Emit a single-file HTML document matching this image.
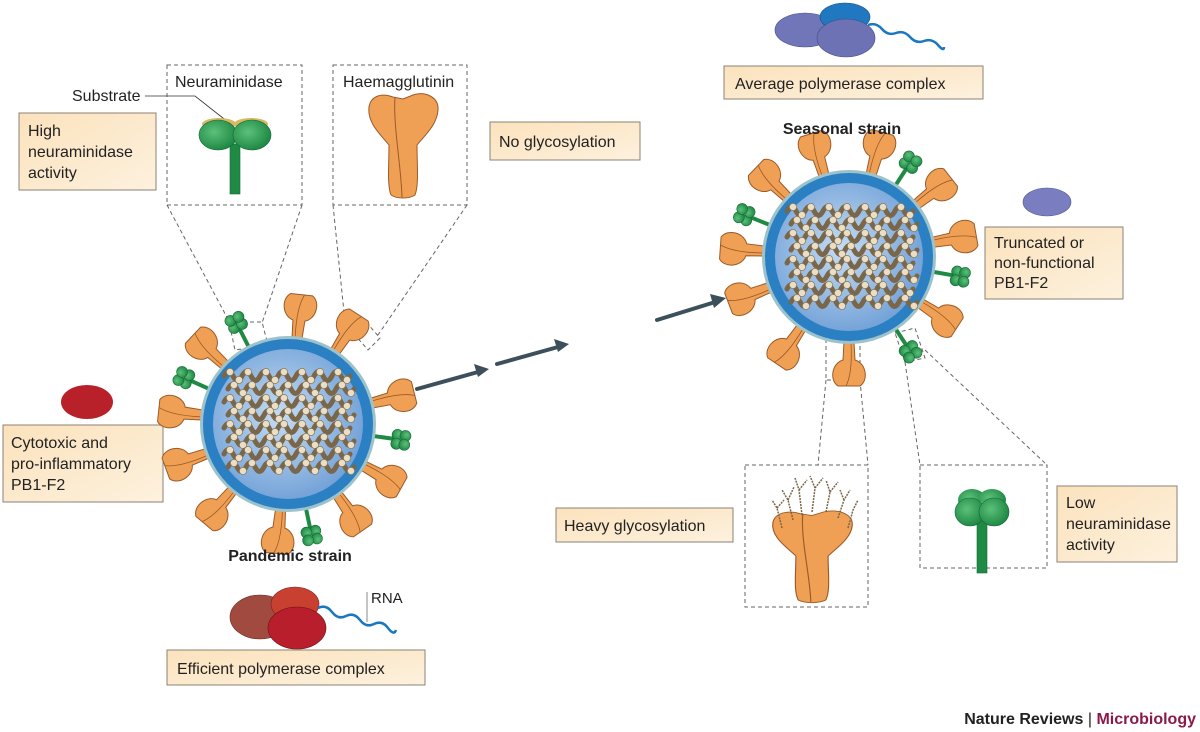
<!DOCTYPE html>
<html><head><meta charset="utf-8"><style>
html,body{margin:0;padding:0;background:#fff}
svg{display:block}
text{font-family:"Liberation Sans",sans-serif;fill:#222}
</style></head><body>
<svg width="1200" height="732" viewBox="0 0 1200 732" xmlns="http://www.w3.org/2000/svg">
<defs>
<linearGradient id="bx" x1="0" y1="0" x2="1" y2="1"><stop offset="0" stop-color="#fbe2bc"/><stop offset="1" stop-color="#fdf1de"/></linearGradient>
<radialGradient id="core" cx="0.45" cy="0.45" r="0.6"><stop offset="0" stop-color="#c4dcf4"/><stop offset="1" stop-color="#6f9fd6"/></radialGradient>
<radialGradient id="gr" cx="0.4" cy="0.4" r="0.6"><stop offset="0" stop-color="#5cc07a"/><stop offset="1" stop-color="#1f8a44"/></radialGradient>
<g id="ha1">
<path d="M-5,0 L-6,-18 C-17,-21 -20,-38 -11,-44 L11,-44 C20,-38 17,-21 6,-18 L5,0 Z" fill="#f0a055" stroke="#9a5a28" stroke-width="1"/>
<path d="M-2,-2 C-3,-20 -2,-34 3,-44" fill="none" stroke="#9a5a28" stroke-width="0.8"/>
</g>
<g id="haD">
<path d="M-12,0 C-16,-10 -14,-30 -14,-50 C-22,-60 -36,-72 -34,-88 C-32,-100 -20,-102 -10,-98 L0,-96 L10,-100 C22,-104 36,-98 35,-85 C34,-70 22,-60 14,-50 C14,-30 16,-10 12,0 C6,4 -6,4 -12,0 Z" fill="#f0a055" stroke="#9a5a28" stroke-width="1"/>
<path d="M-1,2 C-2,-30 -10,-70 -8,-98" fill="none" stroke="#9a5a28" stroke-width="1"/>
</g>
<g id="na1">
<rect x="-2" y="-22" width="4" height="22" fill="#1f8a44"/>
<circle cx="-4.5" cy="-24" r="5.5" fill="url(#gr)" stroke="#17693a" stroke-width="0.6"/>
<circle cx="4.5" cy="-24" r="5.5" fill="url(#gr)" stroke="#17693a" stroke-width="0.6"/>
<circle cx="-4.5" cy="-32" r="5.5" fill="url(#gr)" stroke="#17693a" stroke-width="0.6"/>
<circle cx="4.5" cy="-32" r="5.5" fill="url(#gr)" stroke="#17693a" stroke-width="0.6"/>
</g>
<g id="row">
<path d="M0,0 q4.5,-9 9,0 t9,0 t9,0 t9,0 t9,0 t9,0 t9,0 t9,0 t9,0 t9,0 t9,0 t9,0 t9,0 t9,0" fill="none" stroke="#7a6648" stroke-width="5" stroke-linecap="round"/>
<g fill="#eadfc6" stroke="#8a7656" stroke-width="0.7">
<circle cx="6" cy="-4" r="3.6"/><circle cx="24" cy="-4" r="3.6"/><circle cx="42" cy="-4" r="3.6"/><circle cx="60" cy="-4" r="3.6"/><circle cx="78" cy="-4" r="3.6"/><circle cx="96" cy="-4" r="3.6"/><circle cx="114" cy="-4" r="3.6"/>
<circle cx="15" cy="4" r="3.6"/><circle cx="51" cy="4" r="3.6"/><circle cx="87" cy="4" r="3.6"/><circle cx="123" cy="4" r="3.6"/>
</g>
</g>
<g id="rows">
<use href="#row" x="0" y="0"/><use href="#row" x="4" y="13"/><use href="#row" x="0" y="26"/><use href="#row" x="4" y="39"/><use href="#row" x="0" y="52"/><use href="#row" x="4" y="65"/><use href="#row" x="0" y="78"/><use href="#row" x="4" y="91"/>
</g>
</defs>

<g stroke="#8c8276" stroke-width="1" fill="url(#bx)">
<rect x="19" y="113" width="137" height="77"/>
<rect x="490" y="122" width="150" height="38"/>
<rect x="3" y="425" width="160" height="77"/>
<rect x="167" y="650" width="258" height="35"/>
<rect x="724" y="66" width="259" height="33"/>
<rect x="985" y="227" width="138" height="72"/>
<rect x="556" y="508" width="177" height="34"/>
<rect x="1057" y="486" width="120" height="76"/>
</g>
<g font-size="16">
<text x="28" y="136">High</text><text x="28" y="157">neuraminidase</text><text x="28" y="178">activity</text>
<text x="499" y="147">No glycosylation</text>
<text x="11" y="448">Cytotoxic and</text><text x="11" y="469">pro-inflammatory</text><text x="11" y="490">PB1-F2</text>
<text x="177" y="674">Efficient polymerase complex</text>
<text x="735" y="89">Average polymerase complex</text>
<text x="994" y="248">Truncated or</text><text x="994" y="268">non-functional</text><text x="994" y="288">PB1-F2</text>
<text x="564" y="531">Heavy glycosylation</text>
<text x="1066" y="508">Low</text><text x="1066" y="529">neuraminidase</text><text x="1066" y="550">activity</text>
</g>

<g fill="none" stroke="#666" stroke-width="1" stroke-dasharray="4,3">
<rect x="167" y="65" width="135" height="140"/>
<rect x="333" y="65" width="134" height="140"/>
<rect x="745" y="465" width="123" height="142"/>
<rect x="920" y="465" width="127" height="103"/>
<path d="M167,205 L230,323 M302,205 L262,323 M229,322 L262,322 L268,345 L235,350 Z"/>
<path d="M333,205 L345,322 M467,205 L378,335 M342,320 L360,315 L380,338 L368,350 Z"/>
<path d="M826,338 L860,338 L860,380 L826,380 Z M826,380 L818,465 M860,380 L868,465"/>
<path d="M895,333 L915,328 L925,358 L905,362 Z M905,362 L920,465 M925,350 L1047,465"/>
</g>

<text x="72" y="101" font-size="16">Substrate</text>
<path d="M145,96 L195,96 L228,122" fill="none" stroke="#333" stroke-width="0.8"/>
<text x="175" y="87" font-size="16">Neuraminidase</text>
<text x="343" y="87" font-size="16">Haemagglutinin</text>

<g transform="translate(235,130)">
<rect x="-5" y="14" width="10" height="50" fill="#1f8a44" stroke="#17693a" stroke-width="0.6"/>
<ellipse cx="-16" cy="-6" rx="17" ry="6" fill="#d8b860"/><ellipse cx="16" cy="-6" rx="17" ry="6" fill="#d8b860"/>
<ellipse cx="-17" cy="5" rx="19" ry="15" fill="url(#gr)" stroke="#17693a" stroke-width="0.6"/>
<ellipse cx="17" cy="5" rx="19" ry="15" fill="url(#gr)" stroke="#17693a" stroke-width="0.6"/>
</g>
<g transform="translate(403,195)"><use href="#haD"/></g>
<g transform="translate(812,600) scale(1.15,0.88)"><use href="#haD"/></g>
<g fill="none" stroke="#7a6648" stroke-width="1.5" stroke-dasharray="2,1">
<path d="M793,520 L788,500 L782,490 M788,500 L794,487 M802,515 L799,490 L795,478 M799,490 L807,480 M812,512 L815,488 L810,476 M815,488 L823,478 M826,512 L830,492 L826,480 M830,492 L838,482 M838,518 L844,500 L850,490 M844,500 L840,490 M782,528 L777,508 L772,500 M777,508 L784,500 M848,528 L853,510 L858,500"/>
</g>
<g transform="translate(982,500)">
<rect x="-5" y="20" width="10" height="53" fill="#1f8a44" stroke="#17693a" stroke-width="0.6"/>
<ellipse cx="-10" cy="0" rx="14" ry="11" fill="url(#gr)"/><ellipse cx="10" cy="0" rx="14" ry="11" fill="url(#gr)"/>
<path d="M-7,0 L0,6 L7,0 L0,2 Z" fill="#d8b860"/>
<ellipse cx="-12" cy="12" rx="15" ry="14" fill="url(#gr)" stroke="#17693a" stroke-width="0.6"/>
<ellipse cx="12" cy="12" rx="15" ry="14" fill="url(#gr)" stroke="#17693a" stroke-width="0.6"/>
</g>

<g transform="translate(288,424)">
<g transform="rotate(6) translate(0,-86)"><use href="#ha1"/></g>
<g transform="rotate(33) translate(0,-86)"><use href="#ha1"/></g>
<g transform="rotate(76) translate(0,-86)"><use href="#ha1"/></g>
<g transform="rotate(119) translate(0,-86)"><use href="#ha1"/></g>
<g transform="rotate(145) translate(0,-86)"><use href="#ha1"/></g>
<g transform="rotate(185) translate(0,-86)"><use href="#ha1"/></g>
<g transform="rotate(220) translate(0,-86)"><use href="#ha1"/></g>
<g transform="rotate(250) translate(0,-86)"><use href="#ha1"/></g>
<g transform="rotate(276) translate(0,-86)"><use href="#ha1"/></g>
<g transform="rotate(313) translate(0,-86)"><use href="#ha1"/></g>
<g transform="rotate(333) translate(0,-86)"><use href="#na1"/></g>
<g transform="rotate(294) translate(0,-86)"><use href="#na1"/></g>
<g transform="rotate(98) translate(0,-86)"><use href="#na1"/></g>
<g transform="rotate(168) translate(0,-86)"><use href="#na1"/></g>
<circle r="88" fill="#9cc2cc"/>
<circle r="85" fill="#2a80c2"/>
<circle r="75" fill="url(#core)"/>
<use href="#rows" x="-64" y="-48"/>
</g>
<text x="290" y="561" font-size="16" font-weight="bold" text-anchor="middle">Pandemic strain</text>

<g transform="translate(849,257)">
<g transform="rotate(343) translate(0,-85)"><use href="#ha1"/></g>
<g transform="rotate(15) translate(0,-85)"><use href="#ha1"/></g>
<g transform="rotate(52) translate(0,-85)"><use href="#ha1"/></g>
<g transform="rotate(80) translate(0,-85)"><use href="#ha1"/></g>
<g transform="rotate(123) translate(0,-85)"><use href="#ha1"/></g>
<g transform="rotate(180) translate(0,-85)"><use href="#ha1"/></g>
<g transform="rotate(214) translate(0,-85)"><use href="#ha1"/></g>
<g transform="rotate(249) translate(0,-85)"><use href="#ha1"/></g>
<g transform="rotate(274) translate(0,-85)"><use href="#ha1"/></g>
<g transform="rotate(314) translate(0,-85)"><use href="#ha1"/></g>
<g transform="rotate(33) translate(0,-85)"><use href="#na1"/></g>
<g transform="rotate(100) translate(0,-85)"><use href="#na1"/></g>
<g transform="rotate(147) translate(0,-85)"><use href="#na1"/></g>
<g transform="rotate(292) translate(0,-85)"><use href="#na1"/></g>
<circle r="87" fill="#9cc2cc"/>
<circle r="84" fill="#2a80c2"/>
<circle r="74" fill="url(#core)"/>
<use href="#rows" x="-62" y="-46"/>
</g>
<text x="842" y="134" font-size="16" font-weight="bold" text-anchor="middle">Seasonal strain</text>

<g stroke="#3d4f5a" stroke-width="4" stroke-linecap="round">
<line x1="417" y1="389" x2="478" y2="372"/>
<line x1="497" y1="364" x2="558" y2="347"/>
<line x1="657" y1="320" x2="712" y2="303"/>
</g>
<g fill="#3d4f5a">
<path d="M489,369 L474,364 L478,377 Z"/>
<path d="M569,344 L554,339 L558,352 Z"/>
<path d="M726,298 L710,294 L714,308 Z"/>
</g>

<ellipse cx="87" cy="402" rx="26" ry="17" fill="#b8202a"/>
<ellipse cx="1047" cy="202" rx="24" ry="14" fill="#7a7ec0" stroke="#555a90" stroke-width="0.6"/>

<ellipse cx="260" cy="617" rx="30" ry="22" fill="#a04a40" stroke="#6a2a24" stroke-width="0.6"/>
<ellipse cx="295" cy="604" rx="24" ry="17" fill="#c84030" stroke="#7a2020" stroke-width="0.6"/>
<path d="M318,608 q8,-4 14,4 t14,4 t14,4 t14,4 t14,4 t8,2" fill="none" stroke="#1a78c0" stroke-width="2.5"/>
<ellipse cx="297" cy="628" rx="29" ry="21" fill="#b81e2c" stroke="#701018" stroke-width="0.6"/>
<line x1="367" y1="592" x2="367" y2="622" stroke="#888" stroke-width="1"/>
<text x="371" y="603" font-size="15">RNA</text>

<ellipse cx="805" cy="30" rx="30" ry="17" fill="#7076b8" stroke="#4a4e88" stroke-width="0.6"/>
<ellipse cx="845" cy="17" rx="25" ry="14" fill="#1f78c0" stroke="#144e80" stroke-width="0.6"/>
<path d="M868,25 q8,-3 14,4 t14,4 t14,4 t14,4 t14,4 t6,2" fill="none" stroke="#1a78c0" stroke-width="2.5"/>
<ellipse cx="846" cy="38" rx="29" ry="19" fill="#6c72b4" stroke="#454a85" stroke-width="0.6"/>

<text x="1196" y="724" font-size="16" font-weight="bold" text-anchor="end"><tspan fill="#222">Nature Reviews</tspan><tspan fill="#222" font-weight="normal"> | </tspan><tspan fill="#8b1a4a">Microbiology</tspan></text>
</svg>
</body></html>
